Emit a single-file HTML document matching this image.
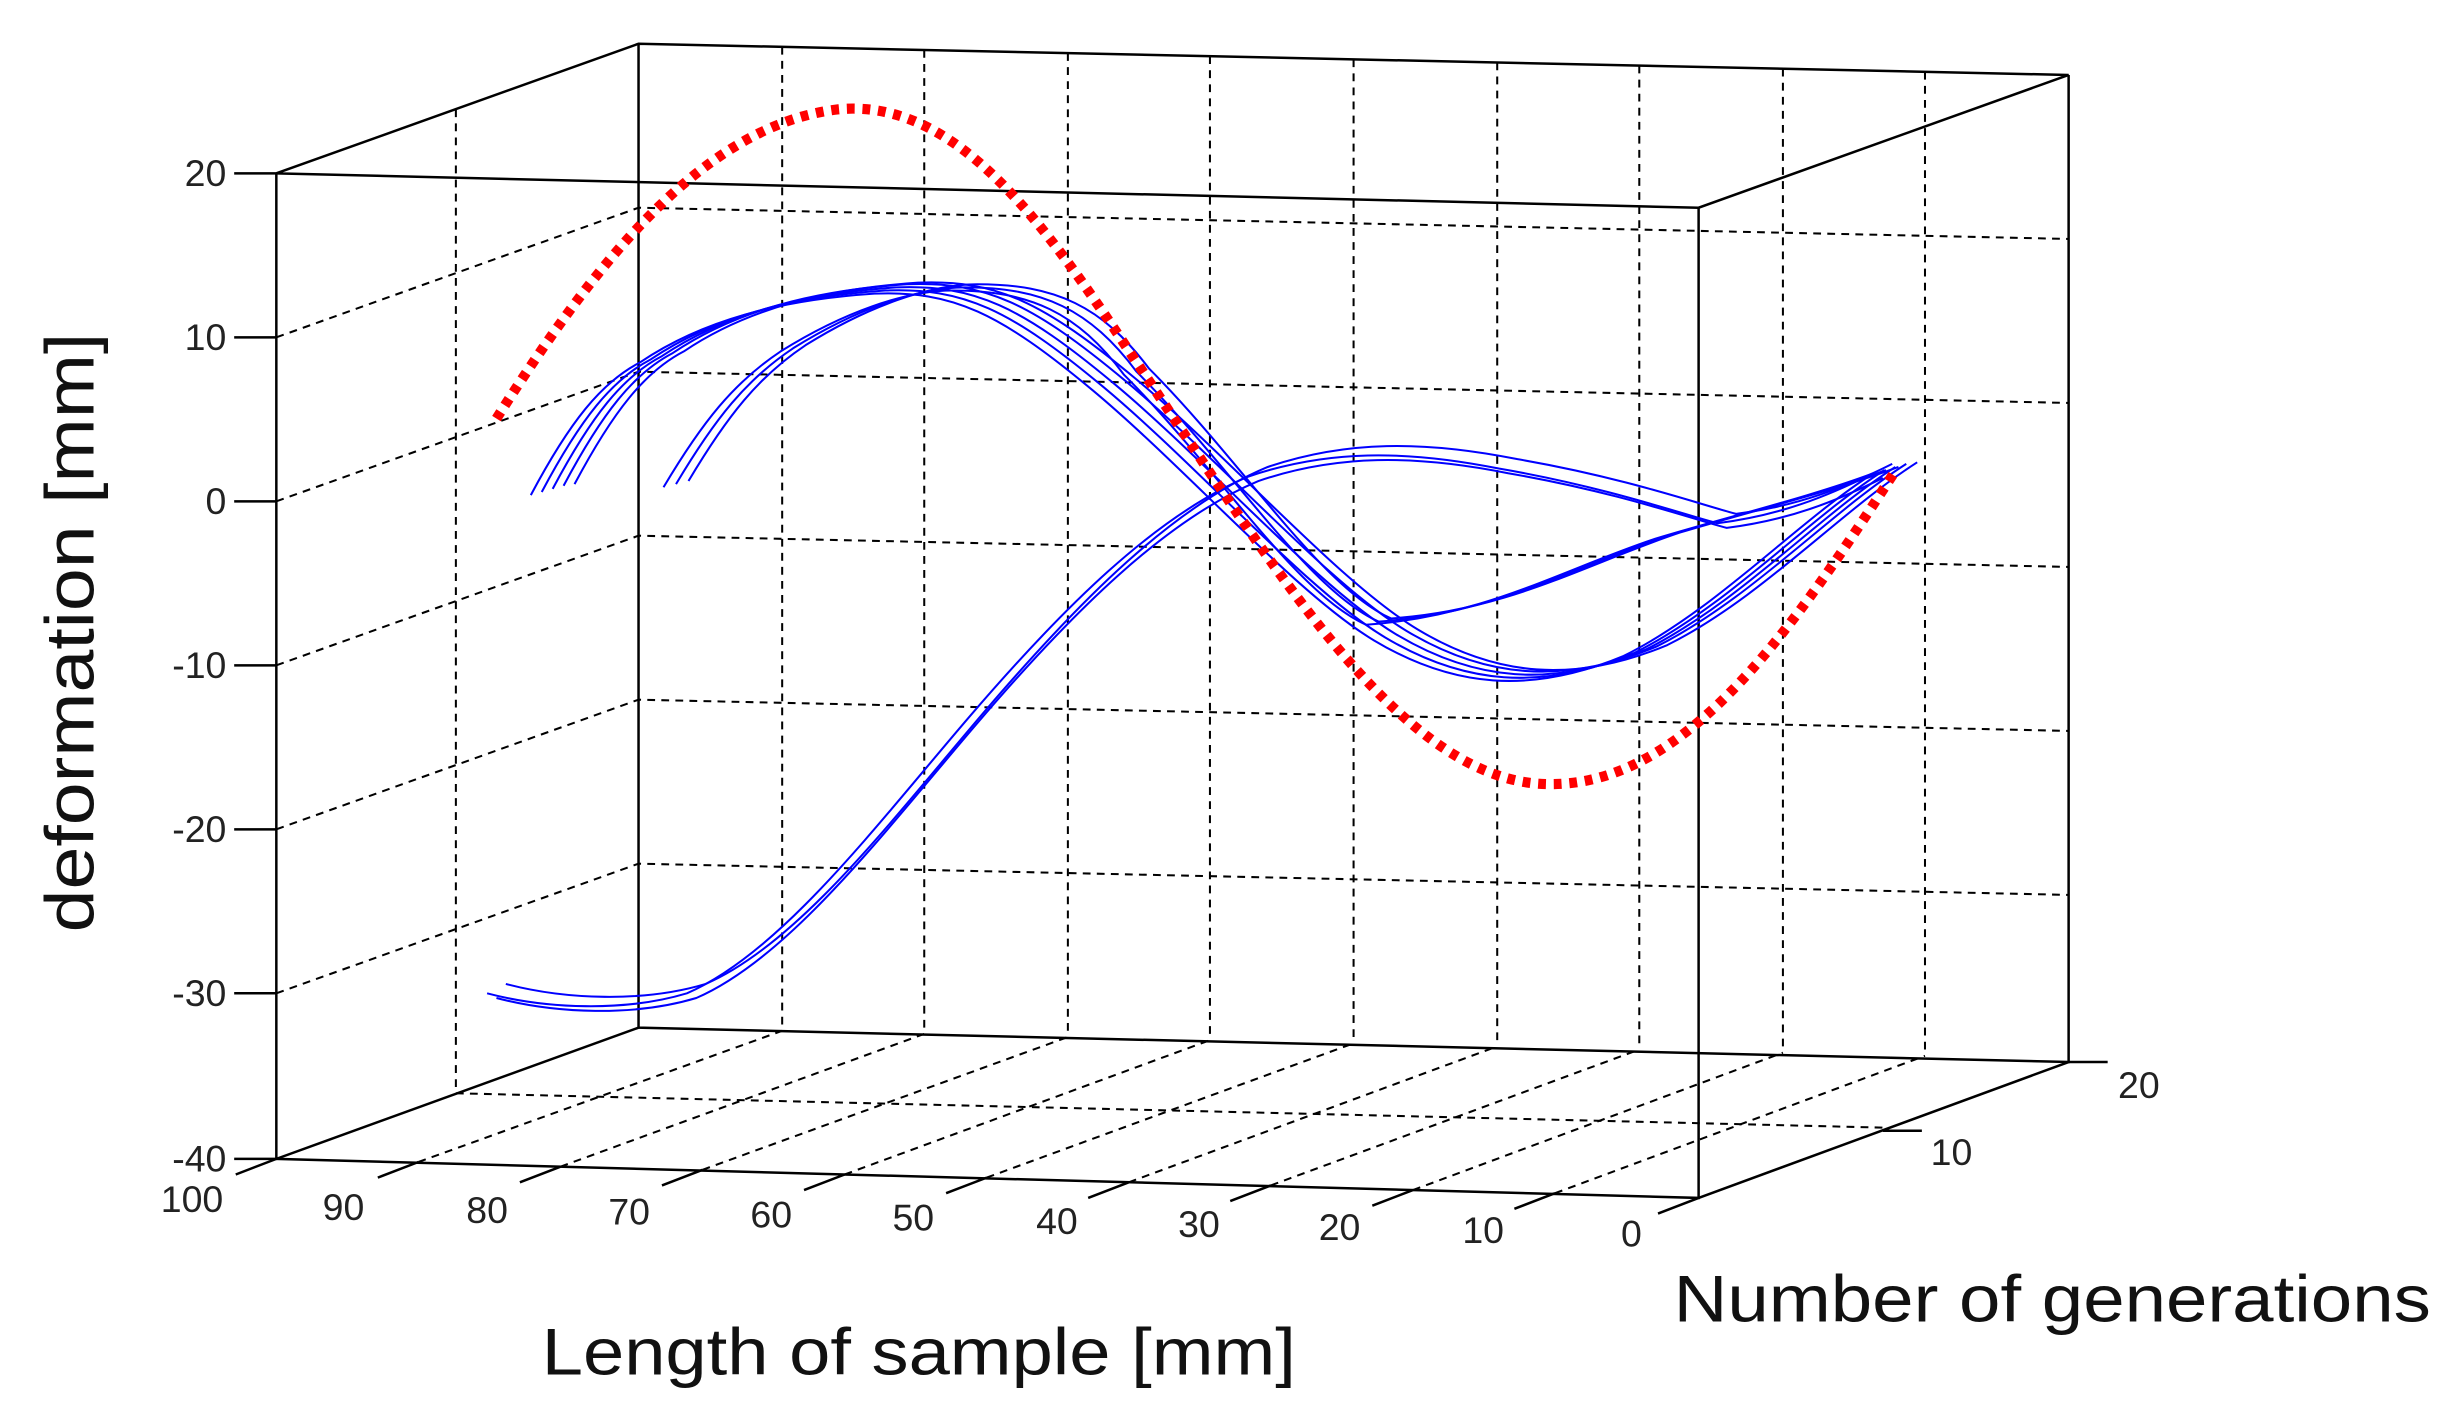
<!DOCTYPE html>
<html><head><meta charset="utf-8"><style>
html,body{margin:0;padding:0;background:#fff;}
svg{display:block;}
text{font-family:"Liberation Sans",sans-serif;fill:#222;}
</style></head><body>
<svg width="2448" height="1415" viewBox="0 0 1568 906" preserveAspectRatio="none" xmlns="http://www.w3.org/2000/svg">
<rect width="1568" height="906" fill="#fff"/>
<g stroke="#000" stroke-width="1.3" stroke-dasharray="5 4" fill="none">
  <path d="M177,216 L409,133 L1325,153"/>
  <path d="M177,321 L409,238 L1325,258"/>
  <path d="M177,426 L409,343 L1325,363"/>
  <path d="M177,531 L409,448 L1325,468"/>
  <path d="M177,636 L409,553 L1325,573"/>
  <path d="M501,30 L501,660"/><path d="M592,32 L592,662"/><path d="M684,34 L684,664"/>
  <path d="M775,36 L775,666"/><path d="M867,38 L867,668"/><path d="M959,40 L959,670"/>
  <path d="M1050,42 L1050,672"/><path d="M1142,44 L1142,674"/><path d="M1233,46 L1233,676"/>
  <path d="M292,70 L292,700"/>
  <path d="M268,744 L501,660"/><path d="M359,747 L592,662"/><path d="M450,749 L684,664"/>
  <path d="M541,752 L775,666"/><path d="M632,754 L867,668"/><path d="M723,757 L959,670"/>
  <path d="M814,759 L1050,672"/><path d="M905,762 L1142,674"/><path d="M996,764 L1233,676"/>
  <path d="M292,700 L1206,722"/>
</g>
<g stroke="#000" stroke-width="1.6" fill="none">
  <path d="M177,111 L409,28 L1325,48 L1088,133 Z"/>
  <path d="M177,111 L177,742 L1088,767 L1088,133"/>
  <path d="M409,28 L409,658 L1325,680 L1325,48"/>
  <path d="M177,742 L409,658"/>
  <path d="M1088,767 L1325,680"/>
  <path d="M150,111H177M150,216H177M150,321H177M150,426H177M150,531H177M150,636H177M150,742H177"/>
  <path d="M177,742 l-26,10 M268,744 l-26,10 M359,747 l-26,10 M450,749 l-26,10 M541,752 l-26,10 M632,754 l-26,10 M723,757 l-26,10 M814,759 l-26,10 M905,762 l-26,10 M996,764 l-26,10 M1088,767 l-26,10"/>
  <path d="M1206,724 l25,0 M1325,680 l25,0"/>
</g>
<g stroke="#0000ff" stroke-width="1.3" fill="none" stroke-linejoin="round">
  <g id="g1">
    <path d="M340,317 C365,270 385,245 410,232 C450,205 500,192 560,188 C610,186 640,200 700,250 C760,300 830,380 880,410 C930,440 980,445 1040,420 C1100,390 1150,335 1200,303"/>
  </g>
  <use href="#g1" transform="translate(7,-2)"/>
  <use href="#g1" transform="translate(14,-4)"/>
  <use href="#g1" transform="translate(21,-6)"/>
  <use href="#g1" transform="translate(28,-7)"/>
  <g id="g2">
    <path d="M425,312 C450,270 470,245 500,225 C540,200 580,186 610,186 C660,186 690,200 720,240 C780,300 830,380 875,400 C950,395 1000,365 1060,345 C1110,330 1160,318 1200,303"/>
  </g>
  <use href="#g2" transform="translate(8,-2)"/>
  <use href="#g2" transform="translate(16,-4)"/>
  <g id="g3">
    <path d="M312,636 C350,646 400,648 440,636 C500,610 560,530 620,460 C680,390 740,330 800,305 C850,288 900,288 960,300 C1030,312 1080,330 1100,335 C1140,330 1170,318 1200,303"/>
  </g>
  <use href="#g3" transform="translate(6,3)"/>
  <use href="#g3" transform="translate(12,-6)"/>
</g>
<path d="M318,268 C380,170 450,80 537,70 C620,62 680,160 740,250 C820,370 900,500 990,502 C1080,505 1150,400 1215,300" stroke="#ff0000" stroke-width="6.5" stroke-dasharray="5 5" fill="none"/>
<g font-size="24" text-anchor="end">
  <text x="145" y="119">20</text><text x="145" y="224">10</text><text x="145" y="329">0</text>
  <text x="145" y="434">-10</text><text x="145" y="539">-20</text><text x="145" y="644">-30</text>
  <text x="145" y="750">-40</text>
</g>
<g font-size="24" text-anchor="middle">
  <text x="123" y="776">100</text><text x="220" y="781">90</text><text x="312" y="783">80</text>
  <text x="403" y="784">70</text><text x="494" y="786">60</text><text x="585" y="788">50</text>
  <text x="677" y="790">40</text><text x="768" y="792">30</text><text x="858" y="794">20</text>
  <text x="950" y="796">10</text><text x="1045" y="798">0</text>
  <text x="1250" y="746">10</text><text x="1370" y="703">20</text>
</g>
<text x="347" y="880" font-size="42" textLength="483" lengthAdjust="spacingAndGlyphs" style="fill:#111">Length of sample [mm]</text>
<text x="1072" y="846" font-size="42" textLength="485" lengthAdjust="spacingAndGlyphs" style="fill:#111">Number of generations</text>
<text transform="translate(60,405) rotate(-90)" x="-192" font-size="44" textLength="384" lengthAdjust="spacingAndGlyphs" style="fill:#111">deformation [mm]</text>
</svg>
</body></html>
